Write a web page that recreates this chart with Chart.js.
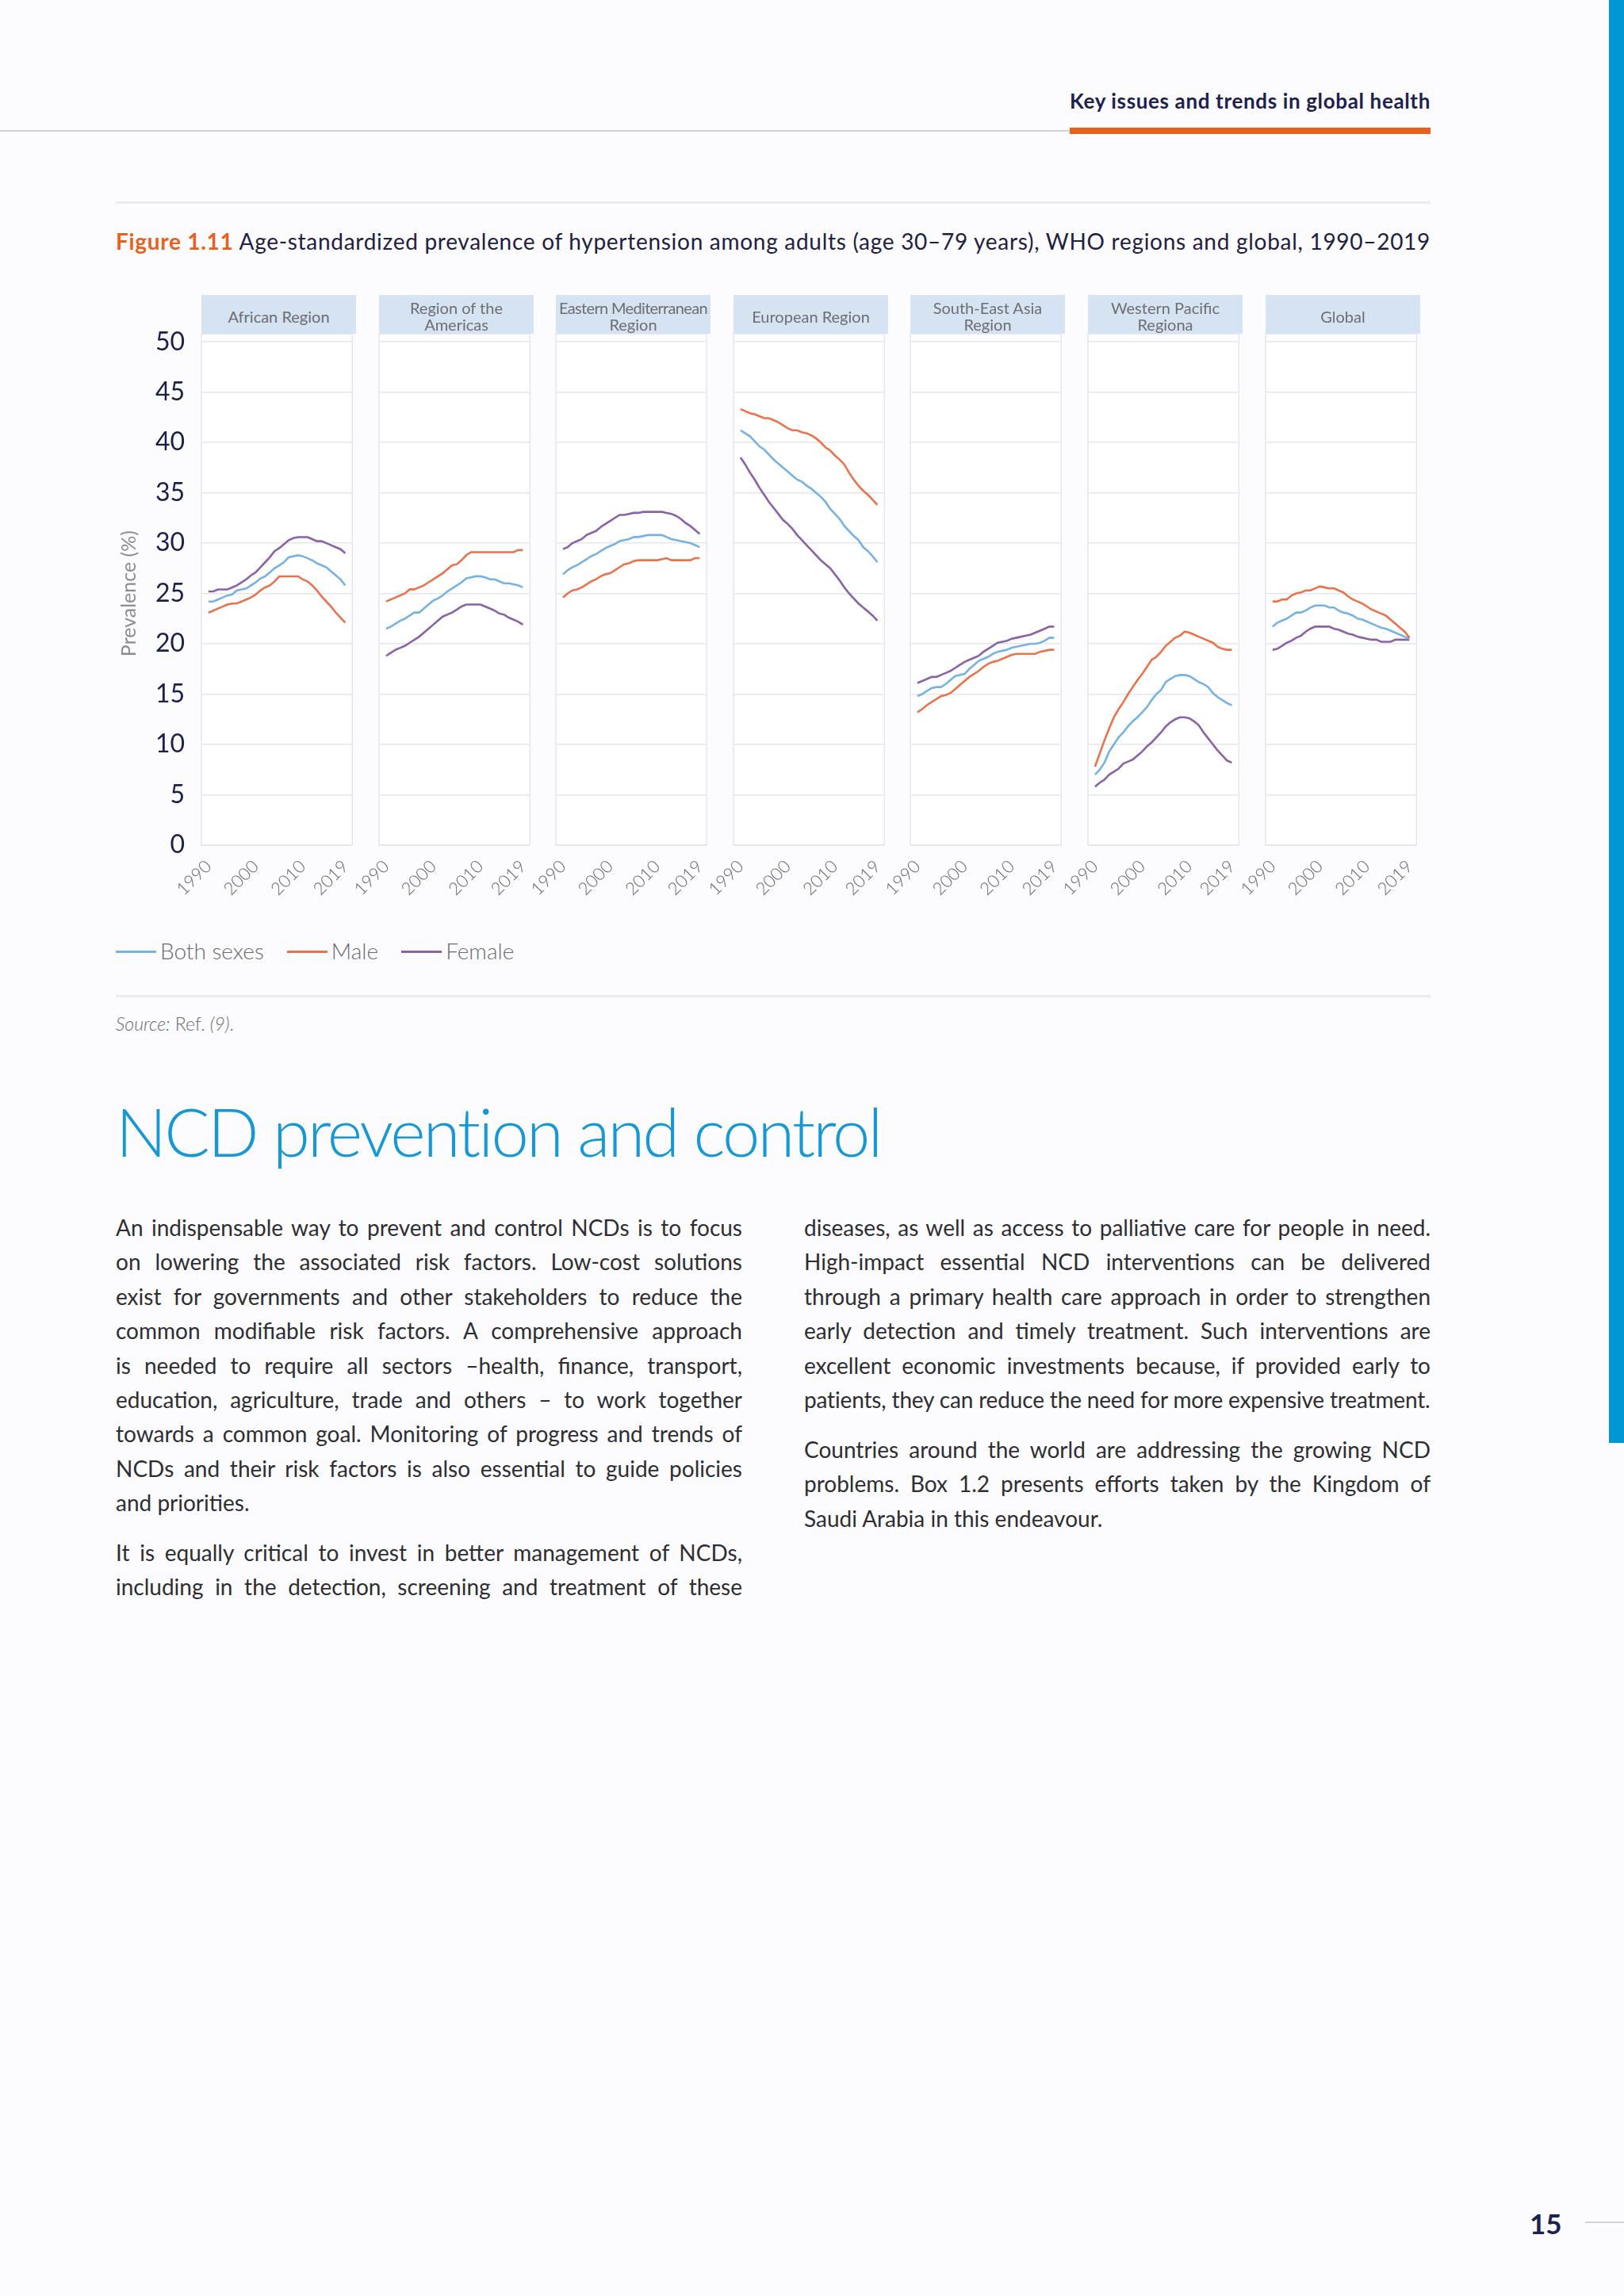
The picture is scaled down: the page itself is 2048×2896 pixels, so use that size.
<!DOCTYPE html>
<html>
<head>
<meta charset="utf-8">
<title>Figure 1.11 Hypertension prevalence</title>
<script src="https://cdn.jsdelivr.net/npm/chart.js@4.4.1/dist/chart.umd.min.js"></script>
<style>
  html, body { margin: 0; padding: 0; }
  body {
    width: 2048px; height: 2896px; position: relative; overflow: hidden;
    background: #fcfcfe; font-family: Lato, "Noto Sans", sans-serif; color: #1d2150;
  }
  .abs { position: absolute; }
  .fit { white-space: nowrap; }
  #runhead { left: 1349px; top: 114px; font-size: 26px; line-height: 26px; font-weight: 700; color: #1d2150; }
  #greyRule { left: 0; top: 164px; width: 1349px; height: 2px; background: #d3d3d6; }
  #orangeRule { left: 1349px; top: 161px; width: 455px; height: 8px; background: #e8601e; }
  #blueBar { left: 2029px; top: 0; width: 19px; height: 1820px; background: #0098d4; }
  .rule { left: 146px; width: 1658px; height: 3px; background: #ebebee; }
  #caption { left: 146px; top: 290px; font-size: 28px; line-height: 28px; color: #1f2040; }
  #caption b { color: #e8601e; font-weight: 700; }
  .panelHead {
    z-index: 2; top: 372px; height: 49px; background: #d5e3f3;
    display: flex; flex-direction: column; align-items: center; justify-content: center; text-align: center;
    box-sizing: border-box; padding-top: 5px;
    font-size: 20px; line-height: 21px; color: #6e6e72;
  }
  .panelHead span { white-space: nowrap; }
  .chartBox { top: 391px; height: 755px; }
  #legend { left: 146px; top: 1185px; display: flex; font-size: 28px; line-height: 28px; color: #6a6a6e; font-weight: 300; }
  #legend .item { display: flex; align-items: flex-start; margin-right: 29px; }
  #legend .swatch { width: 51px; height: 3px; margin-top: 14px; margin-right: 5px; }
  #source { left: 146px; top: 1280px; font-size: 23px; line-height: 23px; color: #6a6a6e; font-weight: 300; }
  #heading { left: 146px; top: 1384px; margin: 0; font-size: 85px; line-height: 85px; font-weight: 300; color: #1598d5; }
  .col { top: 1527px; width: 790px; font-size: 28px; line-height: 43.4px; color: #2e2e32; }
  .col p { margin: 0 0 19.3px 0; }
  .col span { display: block; white-space: nowrap; }
  #folio { left: 1929px; top: 2787px; font-size: 35px; line-height: 35px; font-weight: 700; color: #1d2150; }
  #folioRule { left: 1999px; top: 2802px; width: 49px; height: 2px; background: #d3d3d6; }
</style>
</head>
<body>
<div class="abs fit" id="runhead">Key issues and trends in global health</div>
<div class="abs" id="greyRule"></div>
<div class="abs" id="orangeRule"></div>
<div class="abs" id="blueBar"></div>
<div class="abs rule" style="top:254px"></div>
<div class="abs fit" id="caption"><b>Figure 1.11</b> Age-standardized prevalence of hypertension among adults (age 30–79 years), WHO regions and global, 1990–2019</div>

<div id="panels"></div>

<div class="abs" id="legend"></div>
<div class="abs rule" style="top:1255px"></div>
<div class="abs fit" id="source"><i>Source:</i> Ref. <i>(9)</i>.</div>

<h1 class="abs fit" id="heading">NCD prevention and control</h1>

<div class="abs col" style="left:146px">
  <p>
    <span>An indispensable way to prevent and control NCDs is to focus</span>
    <span>on lowering the associated risk factors. Low-cost solutions</span>
    <span>exist for governments and other stakeholders to reduce the</span>
    <span>common modifiable risk factors. A comprehensive approach</span>
    <span>is needed to require all sectors –health, finance, transport,</span>
    <span>education, agriculture, trade and others – to work together</span>
    <span>towards a common goal. Monitoring of progress and trends of</span>
    <span>NCDs and their risk factors is also essential to guide policies</span>
    <span class="last">and priorities.</span>
  </p>
  <p>
    <span>It is equally critical to invest in better management of NCDs,</span>
    <span>including in the detection, screening and treatment of these</span>
  </p>
</div>
<div class="abs col" style="left:1014px">
  <p>
    <span>diseases, as well as access to palliative care for people in need.</span>
    <span>High-impact essential NCD interventions can be delivered</span>
    <span>through a primary health care approach in order to strengthen</span>
    <span>early detection and timely treatment. Such interventions are</span>
    <span>excellent economic investments because, if provided early to</span>
    <span>patients, they can reduce the need for more expensive treatment.</span>
  </p>
  <p>
    <span>Countries around the world are addressing the growing NCD</span>
    <span>problems. Box 1.2 presents efforts taken by the Kingdom of</span>
    <span class="last">Saudi Arabia in this endeavour.</span>
  </p>
</div>

<div class="abs" id="folio">15</div>
<div class="abs" id="folioRule"></div>

<script>
// Panels (WHO regions + global), years and tick labels
const regions = [
  ['African Region'],
  ['Region of the', 'Americas'],
  ['Eastern Mediterranean', 'Region'],
  ['European Region'],
  ['South-East Asia', 'Region'],
  ['Western Pacific', 'Regiona'],
  ['Global'],
];
const years = Array.from({ length: 30 }, (_, k) => 1990 + k);
const tickYears = [1990, 2000, 2010, 2019];
const yTicks = { min: 0, max: 50, step: 5 };

const seriesNames = ['Both sexes', 'Male', 'Female'];
const seriesColors = ['#78b2e0', '#e8734d', '#8a63a6'];

// Prevalence (%) 1990..2019, one row per panel, same order as regions
const bothSexes = [
  [24.2,24.2,24.4,24.6,24.8,24.9,25.3,25.4,25.5,25.8,26.1,26.5,26.7,27.1,27.5,27.8,28.1,28.6,28.7,28.8,28.7,28.5,28.3,28.0,27.8,27.6,27.2,26.8,26.4,25.8],
  [21.5,21.7,22.0,22.3,22.5,22.8,23.1,23.1,23.5,23.9,24.3,24.5,24.8,25.2,25.5,25.8,26.1,26.5,26.6,26.7,26.7,26.6,26.4,26.4,26.2,26.0,26.0,25.9,25.8,25.6],
  [26.9,27.3,27.6,27.8,28.1,28.4,28.7,28.9,29.2,29.5,29.7,29.9,30.2,30.3,30.4,30.6,30.6,30.7,30.8,30.8,30.8,30.8,30.6,30.4,30.3,30.2,30.1,30.0,29.8,29.6],
  [41.2,40.9,40.6,40.1,39.6,39.3,38.8,38.3,37.9,37.5,37.1,36.7,36.3,36.1,35.7,35.4,35.0,34.6,34.1,33.4,32.9,32.4,31.7,31.2,30.7,30.3,29.6,29.2,28.7,28.1],
  [14.8,15.0,15.3,15.6,15.7,15.7,16.0,16.4,16.8,16.9,17.0,17.5,17.9,18.3,18.5,18.7,19.0,19.2,19.3,19.4,19.6,19.7,19.8,19.9,20.0,20.0,20.1,20.3,20.6,20.6],
  [7.0,7.5,8.2,9.3,10.0,10.7,11.2,11.8,12.3,12.7,13.2,13.7,14.4,15.0,15.4,16.2,16.5,16.8,16.9,16.9,16.8,16.5,16.2,16.0,15.7,15.1,14.7,14.4,14.1,13.9],
  [21.7,22.1,22.3,22.5,22.8,23.1,23.1,23.3,23.6,23.8,23.8,23.8,23.6,23.6,23.3,23.1,23.0,22.8,22.5,22.4,22.2,22.0,21.8,21.6,21.5,21.3,21.1,20.9,20.7,20.5],
];
const male = [
  [23.1,23.3,23.5,23.7,23.9,24.0,24.0,24.2,24.4,24.6,24.9,25.3,25.6,25.8,26.2,26.7,26.7,26.7,26.7,26.7,26.4,26.2,25.8,25.3,24.7,24.2,23.7,23.1,22.6,22.1],
  [24.2,24.4,24.6,24.8,25.0,25.4,25.4,25.6,25.8,26.1,26.4,26.7,27.0,27.4,27.8,27.9,28.3,28.8,29.1,29.1,29.1,29.1,29.1,29.1,29.1,29.1,29.1,29.1,29.3,29.3],
  [24.6,25.0,25.3,25.4,25.6,25.9,26.2,26.4,26.7,26.9,27.0,27.3,27.6,27.9,28.0,28.2,28.3,28.3,28.3,28.3,28.3,28.4,28.5,28.3,28.3,28.3,28.3,28.3,28.5,28.5],
  [43.3,43.1,42.9,42.8,42.6,42.4,42.4,42.2,42.0,41.7,41.4,41.2,41.2,41.0,40.9,40.7,40.4,40.0,39.5,39.2,38.7,38.3,37.8,37.0,36.3,35.7,35.2,34.8,34.3,33.8],
  [13.2,13.5,13.9,14.2,14.5,14.8,14.9,15.1,15.5,15.9,16.3,16.7,17.0,17.3,17.7,18.0,18.2,18.3,18.5,18.7,18.9,19.0,19.0,19.0,19.0,19.0,19.2,19.3,19.4,19.4],
  [7.8,9.1,10.4,11.6,12.7,13.5,14.2,15.0,15.7,16.4,17.0,17.7,18.4,18.7,19.2,19.8,20.2,20.6,20.8,21.2,21.1,20.9,20.7,20.5,20.3,20.1,19.7,19.5,19.4,19.4],
  [24.2,24.2,24.4,24.4,24.8,25.0,25.1,25.3,25.3,25.5,25.7,25.6,25.5,25.5,25.3,25.1,24.7,24.4,24.2,24.0,23.7,23.4,23.2,23.0,22.8,22.4,22.0,21.6,21.2,20.6],
];
const female = [
  [25.2,25.2,25.4,25.4,25.4,25.6,25.8,26.1,26.4,26.8,27.1,27.6,28.1,28.6,29.2,29.5,29.9,30.3,30.5,30.6,30.6,30.6,30.4,30.2,30.2,30.0,29.8,29.6,29.4,29.0],
  [18.8,19.1,19.4,19.6,19.8,20.1,20.4,20.7,21.1,21.5,21.9,22.3,22.7,22.9,23.1,23.4,23.7,23.9,23.9,23.9,23.9,23.7,23.5,23.3,23.0,22.9,22.6,22.4,22.2,21.9],
  [29.4,29.6,30.0,30.2,30.4,30.8,31.0,31.2,31.6,31.9,32.2,32.5,32.8,32.8,32.9,33.0,33.0,33.1,33.1,33.1,33.1,33.1,33.0,32.9,32.7,32.4,32.0,31.7,31.3,30.9],
  [38.5,37.8,37.0,36.3,35.5,34.8,34.1,33.5,32.9,32.3,31.9,31.4,30.8,30.3,29.8,29.3,28.8,28.3,27.9,27.5,26.9,26.3,25.6,25.0,24.5,24.0,23.6,23.2,22.8,22.3],
  [16.1,16.3,16.5,16.7,16.7,16.9,17.1,17.3,17.6,17.9,18.2,18.4,18.6,18.8,19.2,19.5,19.8,20.1,20.2,20.3,20.5,20.6,20.7,20.8,20.9,21.1,21.3,21.5,21.7,21.7],
  [5.8,6.2,6.5,7.0,7.3,7.6,8.1,8.3,8.5,8.9,9.3,9.8,10.2,10.7,11.2,11.8,12.2,12.5,12.7,12.7,12.6,12.3,11.9,11.2,10.6,10.0,9.4,8.9,8.4,8.2],
  [19.4,19.5,19.8,20.1,20.3,20.6,20.8,21.2,21.5,21.7,21.7,21.7,21.7,21.5,21.4,21.2,21.0,20.9,20.7,20.6,20.5,20.4,20.4,20.2,20.2,20.2,20.4,20.4,20.4,20.4],
];
const seriesData = [bothSexes, male, female];

// panel geometry on the page
const plotLefts = [254, 478, 701, 925, 1148, 1372, 1596];
const plotWidth = 195;
const axisWidth = 114;   // y axis of first panel
const sidePad = 50;      // room for rotated 1990 label on other panels
const rightPad = 20;

const gridColor = '#e6e6ec';

// white panel background + light frame, starting at the header bottom
const panelFrame = {
  id: 'panelFrame',
  beforeDraw(chart, args, opts) {
    const { ctx, chartArea: a } = chart;
    ctx.save();
    ctx.fillStyle = '#ffffff';
    ctx.fillRect(a.left, a.top - opts.gap, a.right - a.left, a.bottom - a.top + opts.gap);
    ctx.restore();
  },
  beforeDatasetsDraw(chart, args, opts) {
    const { ctx, chartArea: a } = chart;
    ctx.save();
    ctx.strokeStyle = gridColor;
    ctx.lineWidth = 1.5;
    ctx.strokeRect(a.left, a.top - opts.gap, a.right - a.left, a.bottom - a.top + opts.gap);
    ctx.restore();
  },
};

const panels = document.getElementById('panels');

regions.forEach((lines, i) => {
  const first = i === 0;
  const left = first ? plotLefts[i] - axisWidth : plotLefts[i] - sidePad;
  const width = (first ? axisWidth : sidePad) + plotWidth + rightPad;

  const box = document.createElement('div');
  box.className = 'abs chartBox';
  box.style.left = left + 'px';
  box.style.width = width + 'px';
  const canvas = document.createElement('canvas');
  canvas.width = width;
  canvas.height = 755;
  box.appendChild(canvas);
  panels.appendChild(box);

  const head = document.createElement('div');
  head.className = 'abs panelHead';
  head.style.left = plotLefts[i] + 'px';
  head.style.width = plotWidth + 'px';
  head.innerHTML = lines.map((t) => `<span>${t}</span>`).join('');
  panels.appendChild(head);

  new Chart(canvas.getContext('2d'), {
    type: 'line',
    data: {
      datasets: seriesNames.map((name, s) => ({
        label: name,
        data: years.map((yr, k) => ({ x: yr, y: seriesData[s][i][k] })),
        borderColor: seriesColors[s],
        borderWidth: 2.6,
        pointRadius: 0,
        tension: 0,
        order: s === 1 ? 0 : s + 1,
      })),
    },
    options: {
      responsive: false,
      animation: false,
      layout: { padding: { top: 40, left: first ? 0 : sidePad, right: rightPad, bottom: 0 } },
      plugins: { legend: { display: false }, tooltip: { enabled: false }, panelFrame: { gap: 10 } },
      scales: {
        x: {
          type: 'linear',
          min: 1988.5,
          max: 2020.5,
          afterBuildTicks: (scale) => { scale.ticks = tickYears.map((v) => ({ value: v })); },
          afterFit: (scale) => { scale.height = 80; },
          grid: { display: false, drawTicks: false },
          border: { display: false },
          ticks: {
            autoSkip: false,
            minRotation: 45,
            maxRotation: 45,
            padding: 14,
            color: '#68686e',
            font: { family: 'Lato', size: 22, weight: '300' },
            callback: (v) => String(v),
          },
        },
        y: {
          min: yTicks.min,
          max: yTicks.max,
          afterFit: (scale) => { scale.width = first ? axisWidth : 0; },
          grid: { color: gridColor, lineWidth: 1.5, drawTicks: false },
          border: { display: false },
          ticks: {
            display: first,
            stepSize: yTicks.step,
            padding: 21,
            color: '#1c1f4a',
            font: { family: 'Lato', size: 32, weight: '400' },
          },
          title: {
            display: first,
            text: 'Prevalence (%)',
            color: '#8c8c90',
            font: { family: 'Lato', size: 25 },
            padding: { top: 8, bottom: 0 },
          },
        },
      },
    },
    plugins: [panelFrame],
  });
});

// legend built from the series names/colours
const legend = document.getElementById('legend');
seriesNames.forEach((name, s) => {
  const item = document.createElement('div');
  item.className = 'item';
  item.innerHTML = `<span class="swatch" style="background:${seriesColors[s]}"></span><span>${name}</span>`;
  legend.appendChild(item);
});

// stretch single-line texts to the widths they take in the layout
function fitText(el, target) {
  el.style.display = 'inline-block';
  el.style.letterSpacing = '0px';
  const w = el.getBoundingClientRect().width;
  el.style.letterSpacing = (target - w) / el.textContent.length + 'px';
}

// justify each body line to the column width
function justifyLine(el, width, isLast) {
  el.style.display = 'inline-block';
  const natural = el.getBoundingClientRect().width;
  el.style.display = 'block';
  const gap = width - natural;
  const spaces = (el.textContent.match(/ /g) || []).length;
  if (gap < 0) el.style.letterSpacing = gap / el.textContent.length + 'px';
  else if (!isLast && spaces) el.style.wordSpacing = gap / spaces + 'px';
}

document.fonts.ready.then(() => {
  fitText(document.getElementById('runhead'), 455);
  fitText(document.getElementById('caption'), 1658);
  fitText(document.getElementById('heading'), 966);
  document.querySelectorAll('.col span').forEach((el) => {
    justifyLine(el, 790, el.classList.contains('last'));
  });
  // keep long panel titles on one line inside the header box
  document.querySelectorAll('.panelHead span').forEach((el) => {
    const w = el.getBoundingClientRect().width;
    if (w > plotWidth - 8) fitText(el, plotWidth - 8);
  });
});
</script>
</body>
</html>
